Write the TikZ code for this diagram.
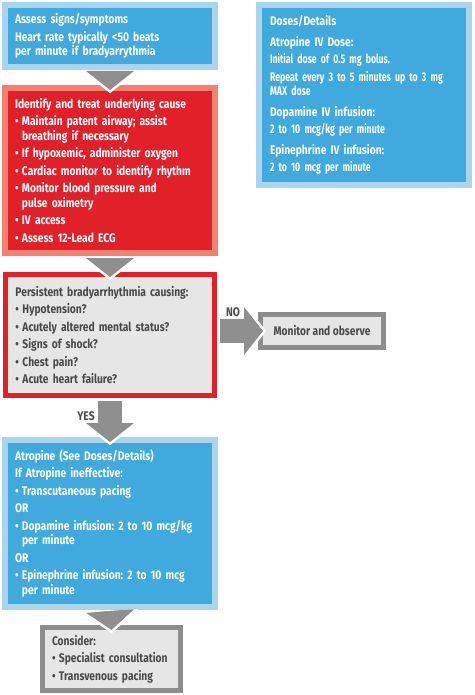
\documentclass[tikz,border=0pt]{standalone}
\usepackage{fontspec}
\setmainfont{Fira Sans}[FakeStretch=0.82]
\newfontfamily\dtlfont{Fira Sans}[FakeStretch=0.7]
\usetikzlibrary{arrows.meta}
\definecolor{bluefill}{HTML}{40A9DD}
\definecolor{bluelight}{HTML}{A9D5EF}
\definecolor{redfill}{HTML}{E2202A}
\definecolor{salmon}{HTML}{F2826F}
\definecolor{grayfill}{HTML}{E7E6E6}
\definecolor{boxgray}{HTML}{8D8D8D}
\definecolor{arrowgray}{HTML}{8F8F8F}
\definecolor{textgray}{HTML}{4A4A4A}
\newcommand{\boxfont}{\fontsize{12.5}{14.5}\selectfont\bfseries\frenchspacing}
\newcommand{\bul}{\makebox[7pt][l]{\textbullet}}
\newcommand{\ind}{\hspace*{7pt}}
\begin{document}
\begin{tikzpicture}[x=1pt, y=-1pt,
  box/.style={rectangle, line width=6pt, inner xsep=10pt, inner ysep=0pt, text width=190pt, align=left, font=\boxfont},
  bluebox/.style={box, draw=bluelight, fill=bluefill, text=white},
  redbox/.style={box, draw=salmon, fill=redfill, text=white},
  graybox/.style={box, line width=5pt, fill=grayfill, text=textgray},
  flow/.style={draw=arrowgray, line width=24pt, shorten <=3pt, -{Triangle[width=48pt, length=19pt, line width=0pt]}},
  halo/.style={draw=white, line width=24pt, shorten <=3pt, shorten >=-3.2pt, -{Triangle[width=56pt, length=22.2pt, line width=0pt]}},
  lbl/.style={font=\boxfont, text=textgray, inner sep=0pt}]
\fill[white] (0,0) rectangle (474,695);
\useasboundingbox (0,0) rectangle (474,695);
% boxes
\node[bluebox, minimum height=62pt] (signs) at (110,36) {Assess signs/symptoms\\[3pt]
  Heart rate typically <50 beats\\ per minute if bradyarrythmia};
\node[bluebox, minimum height=180pt, inner xsep=11pt, text width=188pt] (doses) at (364,95) {Doses/Details\\[6pt]
  Atropine IV Dose:\\[3pt]
  \dtlfont Initial dose of 0.5 mg bolus.\\[3pt]
  Repeat every 3 to 5 minutes up to 3 mg\\ MAX dose\\[6pt]
  \rmfamily Dopamine IV infusion:\\[3pt]
  \dtlfont 2 to 10 mcg/kg per minute\\[6pt]
  \rmfamily Epinephrine IV infusion:\\[3pt]
  \dtlfont 2 to 10 mcg per minute};
\node[redbox, minimum height=165pt] (cause) at (110,170.5) {Identify and treat underlying cause\\[3pt]
  \bul Maintain patent airway; assist\\\ind breathing if necessary\\[3pt]
  \bul If hypoxemic, administer oxygen\\[3pt]
  \bul Cardiac monitor to identify rhythm\\[3pt]
  \bul Monitor blood pressure and\\\ind pulse oximetry\\[3pt]
  \bul IV access\\[3pt]
  \bul Assess 12-Lead ECG};
\node[graybox, draw=redfill, minimum width=209pt, text width=189pt, minimum height=121pt] (persist) at (110,335) {Persistent bradyarrhythmia causing:\\[3pt]
  \bul Hypotension?\\[3pt]
  \bul Acutely altered mental status?\\[3pt]
  \bul Signs of shock?\\[3pt]
  \bul Chest pain?\\[3pt]
  \bul Acute heart failure?};
\node[graybox, draw=boxgray, text width=, align=center, minimum width=123pt, minimum height=33pt] (monitor) at (322,331) {Monitor and observe};
\node[bluebox, minimum height=167pt] (atropine) at (110,523.5) {Atropine (See Doses/Details)\\[3pt]
  If Atropine ineffective:\\[3pt]
  \bul Transcutaneous pacing\\[3pt]
  OR\\[3pt]
  \bul Dopamine infusion: 2 to 10 mcg/kg\\\ind per minute\\[3pt]
  OR\\[3pt]
  \bul Epinephrine infusion: 2 to 10 mcg\\\ind per minute};
\node[graybox, draw=boxgray, inner xsep=9.5pt, text width=119pt, minimum height=63pt] (consider) at (111.5,659) {Consider:\\[3pt]
  \bul Specialist consultation\\[3pt]
  \bul Transvenous pacing};
% arrows
\draw[halo] (signs.south) -- ([yshift=-5pt]cause.north);
\draw[flow] (signs.south) -- ([yshift=-5pt]cause.north);
\draw[halo] (cause.south) -- ([yshift=-5pt]persist.north);
\draw[flow] (cause.south) -- ([yshift=-5pt]persist.north);
\draw[halo] (persist.east |- monitor.west) -- ([xshift=5pt]monitor.west);
\draw[flow] (persist.east |- monitor.west) -- ([xshift=5pt]monitor.west);
\draw[halo] (persist.south) -- ([yshift=-5pt]atropine.north);
\draw[flow] (persist.south) -- ([yshift=-5pt]atropine.north);
\draw[halo] (atropine.south) -- ([yshift=-5pt]consider.north);
\draw[flow] (atropine.south) -- ([yshift=-5pt]consider.north);
% labels
\node[lbl] (nolbl) at (233,312) {NO};
\node[lbl] (yeslbl) at (86,416) {YES};
\end{tikzpicture}
\end{document}
